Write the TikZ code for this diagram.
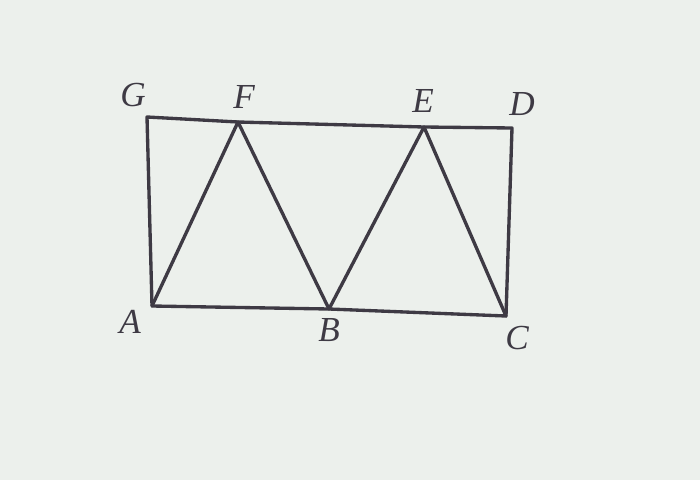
\documentclass[tikz,border=0pt]{standalone}
\usepackage{xcolor}
\usepackage{fontspec}
\setmainfont{Liberation Serif}
\usepackage{tikz}
\usetikzlibrary{positioning, calc}
\definecolor{paper}{RGB}{236, 240, 236}
\definecolor{ink}{RGB}{62, 58, 68}
\tikzstyle{pointlabel} = [inner sep=0pt, text=ink, font=\fontsize{20}{22}\selectfont\itshape]
\tikzstyle{edge} = [line width=1.9pt, draw=ink, line join=round, line cap=round]

\begin{document}
\begin{tikzpicture}
    % Background
    \fill[paper] (0,0) rectangle (14,9.6);
    \useasboundingbox (0,0) rectangle (14,9.6);

    % Vertices
    \coordinate (G) at (2.94, 7.26);
    \coordinate (D) at (10.24, 7.04);
    \coordinate (C) at (10.12, 3.28);
    \coordinate (A) at (3.04, 3.48);
    \coordinate (F) at (4.76, 7.16);
    \coordinate (E) at (8.48, 7.06);
    \coordinate (B) at (6.58, 3.42);

    % Rectangle
    \draw[edge] (G) -- (F) -- (E) -- (D) -- (C) -- (B) -- (A) -- cycle;

    % Zigzag
    \draw[edge] (A) -- (F) -- (B) -- (E) -- (C);

    % Labels
    \node[pointlabel] (labG) at (2.66, 7.70) {G};
    \node[pointlabel] (labF) at (4.88, 7.66) {F};
    \node[pointlabel] (labE) at (8.46, 7.58) {E};
    \node[pointlabel] (labD) at (10.44, 7.52) {D};
    \node[pointlabel] (labA) at (2.60, 3.16) {A};
    \node[pointlabel] (labB) at (6.58, 3.00) {B};
    \node[pointlabel] (labC) at (10.34, 2.84) {C};
\end{tikzpicture}
\end{document}
